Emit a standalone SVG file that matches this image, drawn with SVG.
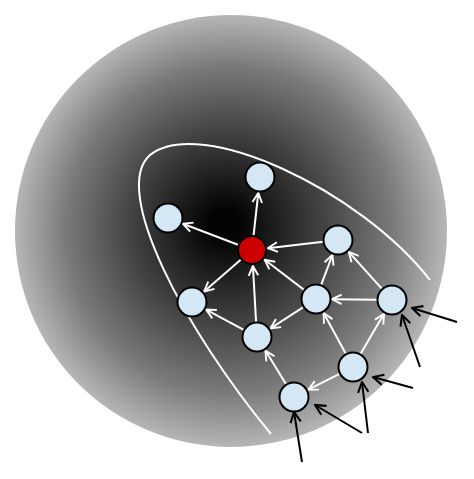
<svg xmlns="http://www.w3.org/2000/svg" width="474" height="479" viewBox="0 0 474 479">
<defs>
<radialGradient id="bg" gradientUnits="userSpaceOnUse" cx="231" cy="231" r="218" fx="224" fy="224">
<stop offset="0" stop-color="#000"/>
<stop offset="0.08" stop-color="#050505"/>
<stop offset="0.45" stop-color="#444"/>
<stop offset="0.75" stop-color="#7a7a7a"/>
<stop offset="1" stop-color="#b8b8b8"/>
</radialGradient>
<marker id="wh" viewBox="0 0 10 10" refX="9" refY="5" markerWidth="12" markerHeight="12" markerUnits="userSpaceOnUse" orient="auto">
<path d="M1,1 L9,5 L1,9" fill="none" stroke="#fff" stroke-width="1.6"/>
</marker>
<marker id="bh" viewBox="0 0 10 10" refX="9" refY="5" markerWidth="13" markerHeight="13" markerUnits="userSpaceOnUse" orient="auto">
<path d="M1,1 L9,5 L1,9" fill="none" stroke="#000" stroke-width="1.6"/>
</marker>
<style>
.w{stroke:#fff;stroke-width:2;fill:none;marker-end:url(#wh)}
.b{stroke:#000;stroke-width:2;fill:none;marker-end:url(#bh)}
.n{fill:#d3e7f5;stroke:#000;stroke-width:2}
.r{fill:#cc0000;stroke:#000;stroke-width:2}
</style>
</defs>
<circle id="field" cx="231" cy="231" r="216" fill="url(#bg)"/>
<path id="boundary" d="M271,434 C185,330 110,190 150,155 C200,115 360,190 430,280" fill="none" stroke="#fff" stroke-width="2"/>
<g id="connectors">
<line class="w" x1="253.6" y1="235.1" x2="258.3" y2="192.9"/>
<line class="w" x1="238.0" y1="244.7" x2="182.9" y2="223.7"/>
<line class="w" x1="323.1" y1="241.7" x2="267.9" y2="248.2"/>
<line class="w" x1="240.7" y1="259.8" x2="204.1" y2="291.5"/>
<line class="w" x1="256.1" y1="322.0" x2="252.9" y2="266.0"/>
<line class="w" x1="304.1" y1="289.9" x2="264.7" y2="259.7"/>
<line class="w" x1="321.2" y1="284.9" x2="332.4" y2="255.0"/>
<line class="w" x1="377" y1="299.8" x2="332" y2="299.2"/>
<line class="w" x1="382" y1="288.9" x2="348.7" y2="251.9"/>
<line class="w" x1="303.4" y1="307.1" x2="270.5" y2="328.3"/>
<line class="w" x1="243.8" y1="329.9" x2="206.1" y2="309.6"/>
<line class="w" x1="345.8" y1="353.8" x2="323.6" y2="313.0"/>
<line class="w" x1="360.5" y1="354.0" x2="384.0" y2="313.8"/>
<line class="w" x1="339.6" y1="373.8" x2="308.3" y2="389.7"/>
<line class="w" x1="286.1" y1="384.2" x2="265.4" y2="350.6"/>
<line class="b" x1="457" y1="322" x2="412" y2="308"/>
<line class="b" x1="420" y1="367" x2="402" y2="315"/>
<line class="b" x1="413" y1="388" x2="373" y2="377"/>
<line class="b" x1="368" y1="433" x2="362" y2="382"/>
<line class="b" x1="362" y1="433" x2="315" y2="405"/>
<line class="b" x1="302" y1="462" x2="294" y2="412"/>
</g>
<g id="n-top"><circle class="n" cx="260" cy="177" r="14.5"/></g>
<g id="n-lefttop"><circle class="n" cx="168" cy="218" r="14.5"/></g>
<g id="n-red"><circle class="r" cx="252" cy="250" r="14"/></g>
<g id="n-rightupper"><circle class="n" cx="338" cy="240" r="14.5"/></g>
<g id="n-leftmid"><circle class="n" cx="192" cy="302" r="14.5"/></g>
<g id="n-mid"><circle class="n" cx="316" cy="299" r="14.5"/></g>
<g id="n-farright"><circle class="n" cx="392" cy="300" r="14.5"/></g>
<g id="n-lowermid"><circle class="n" cx="257" cy="337" r="14.5"/></g>
<g id="n-lowerright"><circle class="n" cx="353" cy="367" r="14.5"/></g>
<g id="n-bottom"><circle class="n" cx="294" cy="397" r="14.5"/></g>
</svg>
